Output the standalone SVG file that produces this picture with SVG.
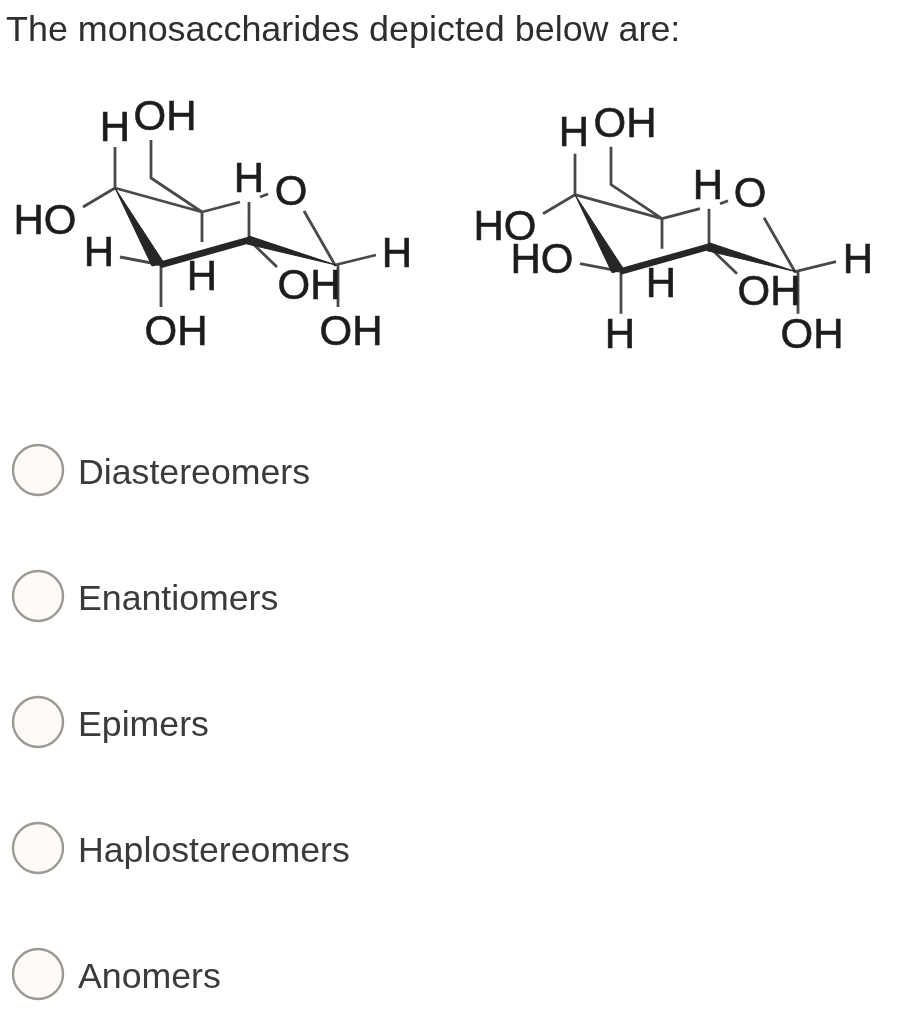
<svg xmlns="http://www.w3.org/2000/svg" xmlns:xlink="http://www.w3.org/1999/xlink" width="920" height="1024" viewBox="0 0 920 1024">
<style>
text{font-family:"Liberation Sans",Arial,sans-serif}
.t{font-size:35.9px;fill:#2e2e2e}
.o{font-size:35.7px;fill:#3a3a3a}
.c{font-size:42px;fill:#1c1c1c;stroke:#1c1c1c;stroke-width:.6;text-anchor:middle}
.r{fill:#fffaf5;stroke:#9a9a96;stroke-width:2.4}
.b{fill:none;stroke:#4a4a4a;stroke-width:2.8;stroke-linejoin:round}
.w{fill:#262626;stroke:#262626;stroke-width:1;stroke-linejoin:round}
.h{fill:none;stroke:#262626;stroke-width:6.5}
.s{filter:url(#soft)}
</style>
<defs>
<filter id="soft" x="-5%" y="-5%" width="110%" height="110%"><feGaussianBlur stdDeviation="0.55"/></filter>
<g id="ring">
<path class="b" d="M115 147V188M151 140V178L202 212M83 207L115 188L202 212L240 202M202 212V242M249 202V240M260 197L268 194M304 211L335 265L376 255M338 265V307M249 240L277 267M120 257L162 265M161 265V307"/>
<path class="w" d="M115 188L164 263L152 266Z"/>
<path class="h" d="M160 265L249 240"/>
<path class="w" d="M249 236L336 265L247 244Z"/>
</g>
</defs>
<rect width="920" height="1024" fill="#ffffff"/>
<text id="title" class="t s" x="6" y="41">The monosaccharides depicted below are:</text>
<g id="connectors" class="s">
<use xlink:href="#ring" href="#ring"/>
<use xlink:href="#ring" href="#ring" x="460" y="6.7"/>
</g>
<g id="molecule-left" class="s">
<text class="c" x="115" y="141">H</text>
<text class="c" x="165" y="130">OH</text>
<text class="c" x="249" y="192">H</text>
<text class="c" x="291" y="205">O</text>
<text class="c" x="45" y="234">HO</text>
<text class="c" x="99" y="266">H</text>
<text class="c" x="202" y="290">H</text>
<text class="c" x="309" y="299">OH</text>
<text class="c" x="176" y="345">OH</text>
<text class="c" x="351" y="345">OH</text>
<text class="c" x="397" y="267">H</text>
</g>
<g id="molecule-right" class="s">
<text class="c" x="574" y="146">H</text>
<text class="c" x="625" y="137">OH</text>
<text class="c" x="708" y="199">H</text>
<text class="c" x="750" y="207">O</text>
<text class="c" x="505" y="240">HO</text>
<text class="c" x="542" y="273">HO</text>
<text class="c" x="661" y="297">H</text>
<text class="c" x="769" y="305">OH</text>
<text class="c" x="620" y="348">H</text>
<text class="c" x="812" y="348">OH</text>
<text class="c" x="858" y="273">H</text>
</g>
<g id="option-1" class="s"><circle class="r" cx="38" cy="470" r="25"/><text class="o" x="78" y="484">Diastereomers</text></g>
<g id="option-2" class="s"><circle class="r" cx="38" cy="596" r="25"/><text class="o" x="78" y="610">Enantiomers</text></g>
<g id="option-3" class="s"><circle class="r" cx="38" cy="722" r="25"/><text class="o" x="78" y="736">Epimers</text></g>
<g id="option-4" class="s"><circle class="r" cx="38" cy="848" r="25"/><text class="o" x="78" y="862">Haplostereomers</text></g>
<g id="option-5" class="s"><circle class="r" cx="38" cy="974" r="25"/><text class="o" x="78" y="988">Anomers</text></g>
</svg>
